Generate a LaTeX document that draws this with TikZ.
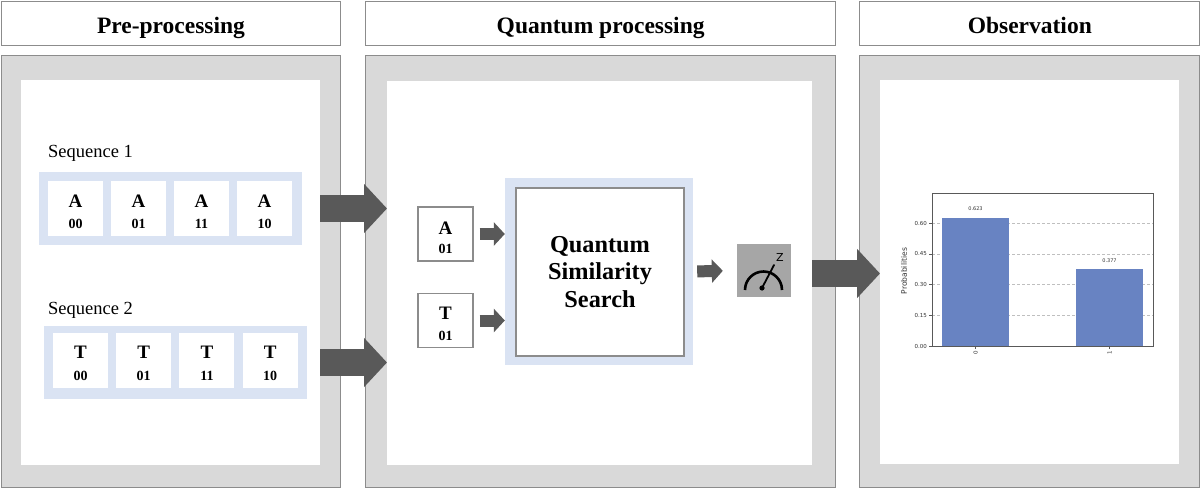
\documentclass[tikz,border=0pt]{standalone}
\usepackage{fontspec}
\setmainfont{Liberation Serif}
\newfontfamily\chartfont{DejaVu Sans}
\usetikzlibrary{arrows.meta}

\definecolor{xamnen}{HTML}{D9D9D9}
\definecolor{xamvien}{HTML}{8C8C8C}
\definecolor{xanhnhat}{HTML}{DAE3F3}
\definecolor{xammuiten}{HTML}{595959}
\definecolor{xamdo}{HTML}{A6A6A6}
\definecolor{maucot}{RGB}{104,131,194}

\tikzset{
  tieude/.style={draw=xamvien, line width=1.3pt, fill=white, anchor=north west, inner sep=0pt,
    minimum height=44.3pt, text height=19pt, text depth=0pt, font=\fontsize{23.5}{28}\selectfont\bfseries},
  khung/.style={draw=xamvien, line width=1.3pt, fill=xamnen, anchor=north west, inner sep=0pt},
  nen/.style={fill=white, anchor=north west, inner sep=0pt},
  day/.style={fill=xanhnhat, minimum width=263pt, minimum height=73pt, inner sep=0pt},
  oky/.style={fill=white, minimum size=55pt, inner sep=0pt},
  onho/.style={draw=xamvien, line width=1.2pt, fill=white, minimum width=55pt, minimum height=54pt, inner sep=0pt},
  kytu/.style={inner sep=0pt, font=\fontsize{19}{19}\selectfont\bfseries},
  maso/.style={inner sep=0pt, font=\fontsize{14}{14}\selectfont\bfseries},
  muitenlon/.style={draw=xammuiten, line width=27pt, -{Triangle[length=23pt, width=48pt]}},
  muitennho/.style={draw=xammuiten, line width=12pt, -{Triangle[length=11pt, width=23pt]}},
  nhobd/.style={inner sep=0pt, font=\chartfont\fontsize{5.5}{6}\selectfont, text=black!80},
}

\begin{document}
\begin{tikzpicture}[x=1pt, y=-1pt]
  \useasboundingbox (0,0) rectangle (1200,488);

  % Ba ô tiêu đề
  \node[tieude, minimum width=339.3pt] (htien) at (0.7,0.7) {Pre-processing};
  \node[tieude, minimum width=470pt] (hlt) at (365,0.7) {Quantum processing};
  \node[tieude, minimum width=340.3pt] (hqs) at (859,0.7) {Observation};

  % Khung xám và nền trắng bên trong
  \node[khung, minimum width=339.3pt, minimum height=432pt] (ktien) at (0.7,55) {};
  \node[khung, minimum width=470pt, minimum height=432pt] (klt) at (365,55) {};
  \node[khung, minimum width=340.3pt, minimum height=432pt] (kqs) at (859,55) {};
  \node[nen, minimum width=299pt, minimum height=385pt] (ntien) at (21,80) {};
  \node[nen, minimum width=425pt, minimum height=384pt] (nlt) at (387,81) {};
  \node[nen, minimum width=299pt, minimum height=384pt] (nqs) at (880,80) {};

  % Chuỗi 1
  \node[anchor=base west, inner sep=0pt, font=\fontsize{18.5}{22}\selectfont] (nhan1) at (48,157) {Sequence 1};
  \node[day] (day1) at (170.5,208.5) {};
  \foreach \ma [count=\i] in {00,01,11,10} {
    \node[oky] (a\i) at (75.5+63*\i-63,208.5) {};
    \node[kytu] at ([yshift=7pt]a\i.center) {A};
    \node[maso] at ([yshift=-15pt]a\i.center) {\ma};
  }

  % Chuỗi 2
  \node[anchor=base west, inner sep=0pt, font=\fontsize{18.5}{22}\selectfont] (nhan2) at (48,314) {Sequence 2};
  \node[day] (day2) at (175.5,362.5) {};
  \foreach \ma [count=\i] in {00,01,11,10} {
    \node[oky] (t\i) at (80.5+63.2*\i-63.2,360.5) {};
    \node[kytu] at ([yshift=8pt]t\i.center) {T};
    \node[maso] at ([yshift=-15.5pt]t\i.center) {\ma};
  }

  % Phần xử lý lượng tử
  \node[onho] (qa) at (445.5,234) {};
  \node[kytu] at ([yshift=6pt]qa.center) {A};
  \node[maso] at ([yshift=-15pt]qa.center) {01};
  \node[onho] (qt) at (445.5,320.5) {};
  \node[kytu] at ([yshift=7.5pt]qt.center) {T};
  \node[maso] at ([yshift=-15pt]qt.center) {01};

  \node[fill=xanhnhat, minimum width=188pt, minimum height=187pt, inner sep=0pt] (qss) at (599,271.5) {};
  \node[draw=xamvien, line width=1.2pt, fill=white, minimum width=168pt, minimum height=168pt, inner sep=0pt,
    align=center, font=\fontsize{24.3}{27.5}\selectfont\bfseries] (qssin) at (600,272) {Quantum\\Similarity\\Search};

  % Máy đo
  \node[fill=xamdo, minimum width=54pt, minimum height=53pt, inner sep=0pt] (do) at (764,270.5) {};
  \draw[line width=2.6pt] (745,290) arc[start angle=180, end angle=360, radius=18.5];
  \draw[line width=1.8pt, line cap=round] (762,288) -- (774,265);
  \fill (762,288) circle (2.6);
  \node[inner sep=0pt, font=\chartfont\fontsize{11}{11}\selectfont] (z) at (780,257) {Z};

  % Mũi tên nhỏ
  \draw[muitennho, shorten <=6pt] (qa.east) -- (qa.east -| qss.west);
  \draw[muitennho, shorten <=6pt] (qt.east) -- (qt.east -| qss.west);
  \draw[muitennho, shorten <=4pt, shorten >=14pt] (qss.east) -- (do.west);

  % Mũi tên lớn
  \draw[muitenlon] (day1.east -| ntien.east) -- (day1.east -| nlt.west);
  \draw[muitenlon] (day2.east -| ntien.east) -- (day2.east -| nlt.west);
  \draw[muitenlon] ([yshift=-2pt]qss.east -| nlt.east) -- ([yshift=-2pt]qss.east -| nqs.west);

  % Biểu đồ xác suất
  \begin{scope}[shift={(932,346)}, y=205pt]
    \foreach \v in {0.15,0.30,0.45,0.60}
      \draw[black!25, densely dashed, line width=0.4pt] (0,\v) -- (221,\v);
    \fill[maucot] (10,0) rectangle (77,0.623);
    \fill[maucot] (144,0) rectangle (211,0.377);
    \draw[black!65, line width=0.7pt] (0,0) rectangle (221,0.746);
    \foreach \v in {0.00,0.15,0.30,0.45,0.60} {
      \draw[black!65, line width=0.5pt] (-3,\v) -- (0,\v);
      \node[nhobd, anchor=east] at (-5,\v) {\v};
    }
    \foreach \x/\t in {43.5/0,177.5/1} {
      \draw[black!65, line width=0.5pt] (\x,0) -- (\x,-0.015);
      \node[nhobd, rotate=90, anchor=east] at (\x,-0.025) {\t};
    }
    \node[nhobd, font=\chartfont\fontsize{5}{6}\selectfont] at (43.5,0.67) {0.623};
    \node[nhobd, font=\chartfont\fontsize{5}{6}\selectfont] at (177.5,0.416) {0.377};
    \node[nhobd, rotate=90, font=\chartfont\fontsize{7.6}{8}\selectfont] at (-28,0.365) {Probabilities};
  \end{scope}
\end{tikzpicture}
\end{document}
